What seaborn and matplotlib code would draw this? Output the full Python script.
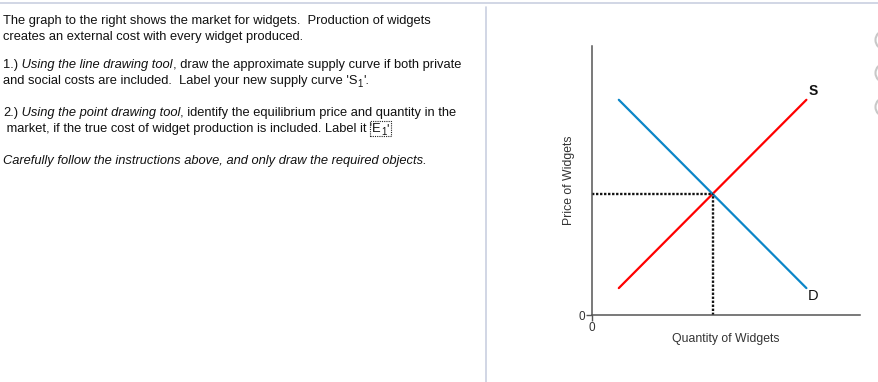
import numpy as np
import pandas as pd
import matplotlib
matplotlib.use("Agg")
import matplotlib.pyplot as plt
import seaborn as sns
from matplotlib.lines import Line2D
from matplotlib.patches import Circle, Rectangle
from matplotlib.transforms import IdentityTransform

# ---------- data ----------
quantity = [1, 8]
supply_price = [1, 8]
demand_price = [8, 1]
eq_quantity = 4.5
eq_price = 4.5
tick_values = [0]
tick_labels = ["0"]

df = pd.DataFrame({
    "Quantity": quantity + quantity,
    "Price": supply_price + demand_price,
    "Curve": ["S"] * len(quantity) + ["D"] * len(quantity),
})

# ---------- style ----------
sns.set_style("white")
plt.rcParams["font.family"] = ["Liberation Sans", "DejaVu Sans"]

W, H = 879, 382
fig = plt.figure(figsize=(W / 100, H / 100), dpi=100)
fig.patch.set_facecolor("white")

# page furniture: top rule, vertical divider, cut-off radio circles
fig.add_artist(Line2D([0, 1], [1 - 2.5 / H, 1 - 2.5 / H], color="#c9cfe0", lw=1.2))
fig.add_artist(Line2D([486.5 / W, 486.5 / W], [0, 1 - 7 / H], color="#c9cfe0", lw=1.2))
for cy in [40, 73, 107]:
    fig.add_artist(Circle((885, H - cy), 9.5, transform=IdentityTransform(),
                          fill=False, ec="#c8c8c8", lw=1.5))

# ---------- left text panel ----------
FS = 9.3
renderer = fig.canvas.get_renderer()


def write_line(x, y, parts):
    # parts: (text, style, baseline shift px, size factor)
    boxes = []
    for s, style, dy, scale in parts:
        t = fig.text(x / W, 1 - (y + dy) / H, s, fontsize=FS * scale, style=style,
                     va="baseline", ha="left", color="#111111")
        bb = t.get_window_extent(renderer)
        boxes.append(bb)
        x = bb.x1
    return boxes


N = ("normal", 0, 1.0)
I = ("italic", 0, 1.0)
SUB = ("normal", 3, 0.75)

write_line(3, 24, [("The graph to the right shows the market for widgets.  Production of widgets",) + N])
write_line(3, 40, [("creates an external cost with every widget produced.",) + N])
write_line(3, 68, [("1.)",) + N,
                   (" Using the line drawing tool",) + I,
                   (", draw the approximate supply curve if both private",) + N])
write_line(3, 84, [("and social costs are included.  Label your new supply curve 'S",) + N,
                   ("1",) + SUB,
                   ("'.",) + N])
write_line(3, 116, [("2.)",) + N,
                    (" Using the point drawing tool",) + I,
                    (", identify the equilibrium price and quantity in the",) + N])
bx = write_line(3, 132, [(" market, if the true cost of widget production is included. Label it",) + N,
                         (" 'E",) + N,
                         ("1",) + SUB,
                         ("'",) + N])
x0 = bx[1].x0 + 3.5
x1 = bx[3].x1 + 2
fig.add_artist(Rectangle((x0, H - 135.5), x1 - x0, 14.5, transform=IdentityTransform(),
                         fill=False, ec="#222222", lw=0.8, ls=(0, (1, 1))))
write_line(3, 164, [("Carefully follow the instructions above, and only draw the required objects.",) + I])

# ---------- chart ----------
ax = fig.add_axes([592 / W, (H - 315) / H, 268 / W, 269 / H])
sns.lineplot(data=df, x="Quantity", y="Price", hue="Curve",
             palette={"S": "#ff0000", "D": "#0b86c8"}, lw=1.6,
             legend=False, ax=ax)

dot = (0, (1, 0.7))
ax.plot([0, eq_quantity], [eq_price, eq_price], color="#111111", lw=1.7, ls=dot)
ax.plot([eq_quantity, eq_quantity], [0, eq_price], color="#111111", lw=1.7, ls=dot)

ax.text(quantity[-1] + 0.25, supply_price[-1] + 0.32, "S", fontsize=10,
        fontweight="bold", ha="center", va="center", color="#111111")
ax.text(quantity[-1] + 0.25, demand_price[-1] - 0.3, "D", fontsize=10.5,
        ha="center", va="center", color="#111111")

ax.set_xlim(0, 10)
ax.set_ylim(0, 10)
ax.set_xticks(tick_values)
ax.set_xticklabels(tick_labels)
ax.set_yticks(tick_values)
ax.set_yticklabels(tick_labels)
ax.tick_params(axis="both", length=4, width=1, color="#555555",
               labelsize=8.5, labelcolor="#333333", pad=1, left=True, bottom=True)

for side in ["top", "right"]:
    ax.spines[side].set_visible(False)
for side in ["left", "bottom"]:
    ax.spines[side].set_color("#555555")
    ax.spines[side].set_linewidth(1.1)
ax.set_facecolor("none")

ax.set_xlabel("Quantity of Widgets", fontsize=8.8, color="#333333")
ax.set_ylabel("Price of Widgets", fontsize=8.8, color="#333333")
ax.xaxis.set_label_coords(0.5, -0.066)
ax.yaxis.set_label_coords(-0.062, 0.5)

fig.savefig("out.png", dpi=100, facecolor="white")
